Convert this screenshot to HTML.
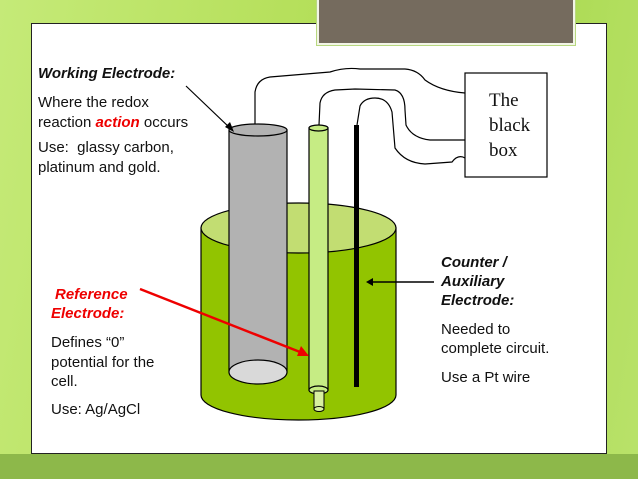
<!DOCTYPE html>
<html><head><style>
html,body{margin:0;padding:0}
body{width:638px;height:479px;position:relative;overflow:hidden;background:linear-gradient(100deg,#c5ea78 0%,#b6e05c 40%,#a9d94e 70%,#b9e26a 100%);font-family:"Liberation Sans",sans-serif}
.slide{position:absolute;left:31px;top:23px;width:574px;height:429px;background:#fff;border:1px solid #222}
.bot{position:absolute;left:0;top:454px;width:638px;height:25px;background:#8db84a}
.gray{position:absolute;left:317px;top:0;width:254px;height:43px;background:#756b5e;border:2px solid #f2f5e6;border-top:none;box-shadow:0 0 0 1px #b8d880}
.t{position:absolute;font-size:15px;line-height:19.5px;color:#111;white-space:nowrap}
.b{font-weight:bold;font-style:italic}
.s{position:absolute;font-family:"Liberation Serif",serif;font-size:19px;line-height:25px;color:#111}
</style></head><body>
<div class="bot"></div>
<div class="slide"></div>
<div class="gray"></div>
<svg width="638" height="479" style="position:absolute;left:0;top:0">
<rect x="465" y="73" width="82" height="104" fill="#fff" stroke="#000" stroke-width="1.2"/>
<g fill="none" stroke="#000" stroke-width="1.2">
<path d="M255,125 L255,92 Q257,79 270,77 L330,72 Q345,67 360,69 L405,69 Q418,70 425,80 Q440,91 465,93"/>
<path d="M319,125 L320,103 Q322,92 335,90 L355,89 L395,90 Q405,93 405,110 L406,125 Q412,138 430,140 L465,140"/>
<path d="M357,125 L360,106 Q364,98 375,98 Q388,98 392,112 L395,148 Q405,163 425,164 L452,162 Q458,154 465,158"/>
</g>
<path d="M201,228 L201,395 A97.5,25 0 0 0 396,395 L396,228 Z" fill="#92c400" stroke="#000" stroke-width="1.2"/>
<ellipse cx="298.5" cy="228" rx="97.5" ry="25" fill="#c2dd72" stroke="#000" stroke-width="1.2"/>
<rect x="229" y="130" width="58" height="242" fill="#b2b2b2" stroke="#000" stroke-width="1.2"/>
<ellipse cx="258" cy="130" rx="29" ry="6" fill="#b2b2b2" stroke="#000" stroke-width="1.2"/>
<ellipse cx="258" cy="372" rx="29" ry="12" fill="#d9d9d9" stroke="#000" stroke-width="1.2"/>
<rect x="309" y="128" width="19" height="262" fill="#c6ec84" stroke="#000" stroke-width="1.2"/>
<ellipse cx="318.5" cy="128" rx="9.5" ry="3" fill="#c6ec84" stroke="#000" stroke-width="1.2"/>
<ellipse cx="318.5" cy="390" rx="9.5" ry="4" fill="#c6ec84" stroke="#000" stroke-width="1.2"/>
<rect x="314" y="391" width="10" height="18" fill="#d8f0a0" stroke="#000" stroke-width="1"/>
<ellipse cx="319" cy="409" rx="5" ry="2.5" fill="#d8f0a0" stroke="#000" stroke-width="1"/>
<rect x="354" y="125" width="5" height="262" fill="#000"/>
<line x1="434" y1="282" x2="368" y2="282" stroke="#000" stroke-width="1.5"/>
<path d="M366,282 L373,278 L373,286 Z" fill="#000"/>
<line x1="186" y1="86" x2="230" y2="128" stroke="#000" stroke-width="1.2"/>
<path d="M234,132 L225,127 L230,122 Z" fill="#000"/>
<line x1="140" y1="289" x2="300" y2="352" stroke="#e00" stroke-width="2.5"/>
<path d="M309,356 L297,356 L301,346 Z" fill="#e00"/>
</svg>
<div class="t b" style="left:38px;top:64px">Working Electrode:</div>
<div class="t" style="left:38px;top:93px">Where the redox<br>reaction <b style="color:#e00;font-style:italic">action</b> occurs</div>
<div class="t" style="left:38px;top:138px">Use:&nbsp; glassy carbon,<br>platinum and gold.</div>
<div class="t b" style="left:55px;top:285px;color:#e00">Reference</div>
<div class="t b" style="left:51px;top:304px;color:#e00">Electrode:</div>
<div class="t" style="left:51px;top:333px">Defines “0”<br>potential for the<br>cell.</div>
<div class="t" style="left:51px;top:400px">Use: Ag/AgCl</div>
<div class="t b" style="left:441px;top:253px;line-height:19px">Counter /<br>Auxiliary<br>Electrode:</div>
<div class="t" style="left:441px;top:320px;line-height:19px">Needed to<br>complete circuit.</div>
<div class="t" style="left:441px;top:368px">Use a Pt wire</div>
<div class="s" style="left:489px;top:88px">The<br>black<br>box</div>
</body></html>
